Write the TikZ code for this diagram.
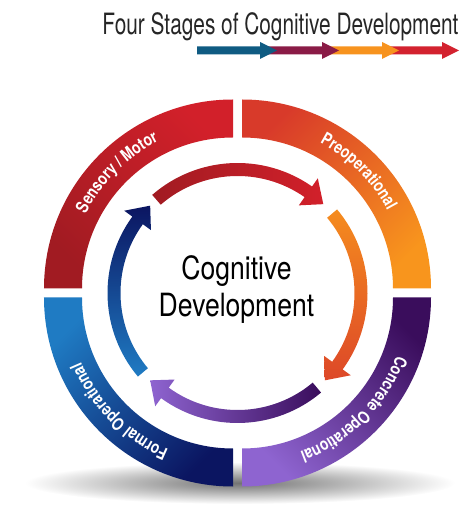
\documentclass[tikz,border=0pt]{standalone}
\usepackage{fontspec}
\usepackage{tikz}
\usetikzlibrary{decorations.text, calc}

\newfontfamily\titlefont[FakeStretch=0.71]{TeX Gyre Heros}
\newfontfamily\centerfont[FakeStretch=0.83]{TeX Gyre Heros}
\newfontfamily\stagefont[FakeStretch=0.8]{TeX Gyre Heros}

\definecolor{smDark}{HTML}{A11B22}
\definecolor{smLight}{HTML}{D2202A}
\definecolor{preRed}{HTML}{D83A2A}
\definecolor{preOrange}{HTML}{F8951D}
\definecolor{coDark}{HTML}{3A0D5C}
\definecolor{coLight}{HTML}{8E64D0}
\definecolor{foBlue}{HTML}{1F7BC3}
\definecolor{foNavy}{HTML}{0B1561}
\definecolor{titleBlue}{HTML}{0F5B82}
\definecolor{titleMaroon}{HTML}{8A1B46}
\definecolor{titleOrange}{HTML}{F7931E}
\definecolor{titleRed}{HTML}{D3222F}

\tikzset{
  stagelabel/.style={decorate, decoration={text along path, text align=center,
    text color=white, text={|\stagefont\bfseries\fontsize{13}{13}\selectfont|#1}}}
}

% inner cycle arrow: tail angle, shading options
\newcommand{\cogarrow}[2]{%
  \shade[#2] ({#1}:130) arc[start angle={#1}, end angle={#1-76}, radius=130]
    -- ({#1-76}:140) -- ({#1-85}:123.5) -- ({#1-76}:107) -- ({#1-76}:117)
    arc[start angle={#1-76}, end angle={#1}, radius=117] -- cycle;}

\begin{document}
\begin{tikzpicture}[x=0.75pt, y=0.75pt]
    \useasboundingbox (-237.5,-220) rectangle (236.5,293);

    % shadow under the wheel
    \shade[inner color=black!55, outer color=white] (2.5,-190) ellipse (215 and 21);

    % title and its arrow strip
    \node[anchor=base, text=black!85, font=\titlefont\fontsize{22}{22}\selectfont] (title) at (43,258) {Four Stages of Cognitive Development};
    \foreach \s/\b/\c in {144.5/204.5/titleRed, 84.5/144.5/titleOrange, 22.5/84.5/titleMaroon, -40.5/22.5/titleBlue}{
        \fill[\c] (\s,246.5) -- (\b,246.5) -- (\b,251) -- (\b+17,242.5) -- (\b,234) -- (\b,238.5) -- (\s,238.5) -- cycle;
    }

    % outer ring
    \begin{scope}[shift={(-4.5,4.5)}]
        \shade[top color=smLight, bottom color=smDark, shading angle=-45] (90:189) arc[start angle=90, end angle=180, radius=189] -- (180:151) arc[start angle=180, end angle=90, radius=151] -- cycle;
        \path[stagelabel=Sensory / Motor] (180:165) arc[start angle=180, end angle=90, radius=165];
    \end{scope}
    \begin{scope}[shift={(4.5,4.5)}]
        \shade[top color=preRed, bottom color=preOrange, shading angle=45] (0:189) arc[start angle=0, end angle=90, radius=189] -- (90:151) arc[start angle=90, end angle=0, radius=151] -- cycle;
        \path[stagelabel=Preoperational] (90:165) arc[start angle=90, end angle=0, radius=165];
    \end{scope}
    \begin{scope}[shift={(4.5,-4.5)}]
        \shade[top color=coDark, bottom color=coLight, shading angle=-45] (-90:189) arc[start angle=-90, end angle=0, radius=189] -- (0:151) arc[start angle=0, end angle=-90, radius=151] -- cycle;
        \path[stagelabel=Concrete Operational] (0:165) arc[start angle=0, end angle=-90, radius=165];
    \end{scope}
    \begin{scope}[shift={(-4.5,-4.5)}]
        \shade[top color=foBlue, bottom color=foNavy, shading angle=45] (180:189) arc[start angle=180, end angle=270, radius=189] -- (270:151) arc[start angle=270, end angle=180, radius=151] -- cycle;
        \path[stagelabel=Formal Operational] (-90:165) arc[start angle=-90, end angle=-180, radius=165];
    \end{scope}

    % inner arrows
    \cogarrow{131}{left color=smDark, right color=smLight}
    \cogarrow{40}{top color=preOrange!90!preRed, bottom color=preRed!85!preOrange}
    \cogarrow{-50}{left color=coLight, right color=coDark}
    \cogarrow{-140}{top color=foNavy, bottom color=foBlue}

    % centre text
    \node[anchor=base, font=\centerfont\fontsize{24}{24}\selectfont] (cog) at (-1,13) {Cognitive};
    \node[anchor=base, font=\centerfont\fontsize{24}{24}\selectfont] (dev) at (-1,-24) {Development};
\end{tikzpicture}
\end{document}
